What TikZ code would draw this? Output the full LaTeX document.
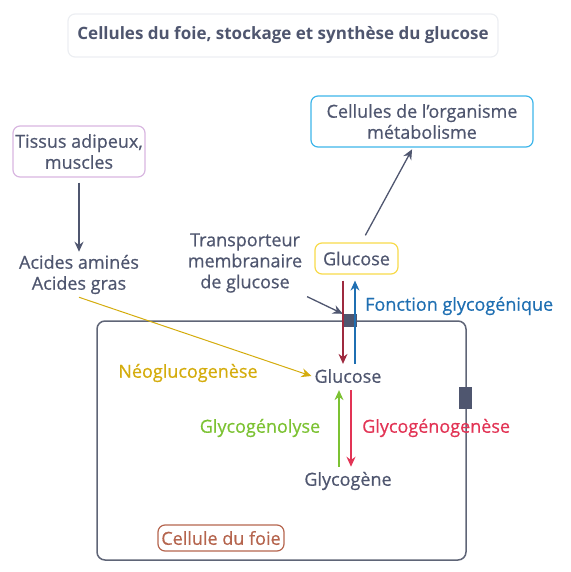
\documentclass[tikz,border=0pt]{standalone}
\usepackage{fontspec}
\setmainfont{Open Sans}[UprightFeatures={FakeBold=0.6}]
\usetikzlibrary{arrows.meta,positioning}
\definecolor{ink}{HTML}{4F566F}
\definecolor{wall}{HTML}{5F6577}
\definecolor{lightline}{HTML}{ECEEF2}
\definecolor{lilac}{HTML}{D8B6E0}
\definecolor{sky}{HTML}{3DB5EA}
\definecolor{sun}{HTML}{F7DA4A}
\definecolor{gold}{HTML}{D4AC0D}
\definecolor{deepblue}{HTML}{1F6FB2}
\definecolor{wine}{HTML}{9E2A3F}
\definecolor{leaf}{HTML}{7CC233}
\definecolor{rose}{HTML}{E23455}
\definecolor{rust}{HTML}{B5654E}

\begin{document}
\begin{tikzpicture}
		[
			x=1pt, y=-1pt,
			align=center,
			text=ink,
			font=\fontsize{18}{21}\selectfont,
			box/.style={draw, rounded corners=7pt, line width=1.2pt, inner sep=0pt},
			label/.style={draw=none, fill=none, inner sep=3pt},
			gate/.style={fill=ink, inner sep=0pt},
			arrow/.style={-{Stealth[length=10pt,width=9pt]}, line width=1.3pt, ink}
		]
		\useasboundingbox (0,0) rectangle (570,572);

		% boxes
		\node[box, draw=lightline, minimum width=430pt, minimum height=43pt, font=\fontsize{17}{21}\selectfont\bfseries]
			(title) at ( 283.0,  35.5 ) {Cellules du foie, stockage et synthèse du glucose};
		\node[box, draw=lilac, minimum width=132pt, minimum height=51pt]
			(tissus) at (  79.0, 151.5 ) {Tissus adipeux,\\muscles};
		\node[box, draw=sky, minimum width=222pt, minimum height=51pt]
			(organisme) at ( 422.0, 121.5 ) {Cellules de l’organisme\\métabolisme};
		\node[box, draw=sun, minimum width=83pt, minimum height=31pt]
			(glucoseout) at ( 356.5, 258.5 ) {Glucose};
		\node[box, draw=wall, line width=1.5pt, rounded corners=8pt, minimum width=369pt, minimum height=239pt]
			(foie) at ( 281.5, 440.5 ) {};
		\node[box, draw=rust, text=rust, minimum width=126pt, minimum height=26pt]
			(celllabel) at ( 221.0, 538.0 ) {Cellule du foie};

		% membrane transporters
		\node[gate, minimum width=14pt, minimum height=13pt] (gate1) at ( 350.0, 320.5 ) {};
		\node[gate, minimum width=13pt, minimum height=22pt] (gate2) at ( 465.5, 398.0 ) {};

		% plain labels
		\node[label] (acides)     at (  79.0, 274.5 ) {Acides aminés\\Acides gras};
		\node[label] (transport)  at ( 245.0, 263.0 ) {Transporteur\\membranaire\\de glucose};
		\node[label] (glucosein)  at ( 348.0, 376.0 ) {Glucose};
		\node[label] (glycogene)  at ( 348.0, 481.0 ) {Glycogène};
		\node[label, text=gold]     (neo)      at ( 188.0, 373.0 ) {Néoglucogenèse};
		\node[label, text=leaf]     (lyse)     at ( 260.0, 428.0 ) {Glycogénolyse};
		\node[label, text=rose, anchor=west]     (genese)   at ( 359.0, 428.0 ) {Glycogénogenèse};
		\node[label, text=deepblue, anchor=west] (fonction) at ( 362.0, 306.0 ) {Fonction glycogénique};

		% arrows
		\draw[arrow, shorten <=5pt] (tissus) -- (acides);
		\draw[arrow, shorten <=2pt] (transport.south east) -- (gate1.north west);
		\draw[arrow, shorten <=8pt, shorten >=2pt] ([xshift=5pt]glucoseout.north) -- ([xshift=-9pt]organisme.south);
		\draw[arrow, gold, line width=1pt] (acides.south) -- (glucosein.west);

		\draw[arrow, wine, shorten <=6pt, shorten >=2pt] ([xshift=-5pt]glucosein.north |- glucoseout.south) -- ([xshift=-5pt]glucosein.north);
		\draw[arrow, deepblue, shorten <=2pt, shorten >=6pt] ([xshift=7pt]glucosein.north) -- ([xshift=7pt]glucosein.north |- glucoseout.south);

		\draw[arrow, leaf, shorten <=2pt, shorten >=4pt] ([xshift=-9pt]glycogene.north) -- ([xshift=-9pt]glucosein.south);
		\draw[arrow, rose, shorten <=4pt, shorten >=2pt] ([xshift=3pt]glucosein.south) -- ([xshift=3pt]glycogene.north);

	\end{tikzpicture}
\end{document}
